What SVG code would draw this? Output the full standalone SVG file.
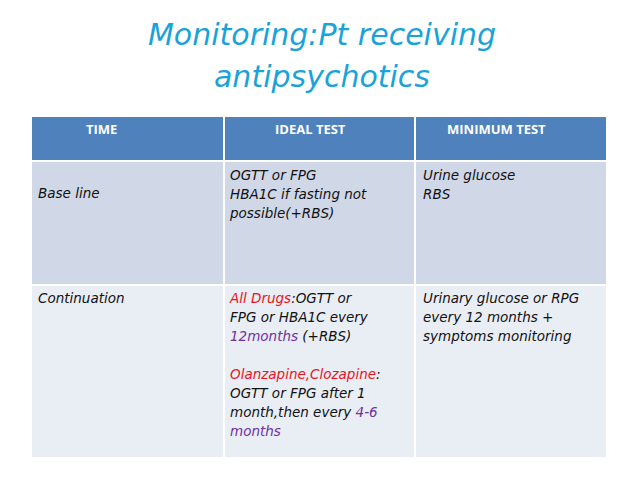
<svg xmlns="http://www.w3.org/2000/svg" width="638" height="478" viewBox="0 0 638 478">
<style>
.t{font-family:"DejaVu Sans",sans-serif;font-style:italic;font-size:30px;fill:#1aa3d9;text-anchor:middle}
.h{font-family:"Open Sans","Liberation Sans",sans-serif;font-weight:bold;font-size:13px;fill:#fff}
.c{font-family:"DejaVu Sans",sans-serif;font-style:italic;font-size:13.5px;fill:#111}
.r{fill:#e8141a}.p{fill:#7030a0}
</style>
<rect width="638" height="478" fill="#fff"/>
<g id="title"><text class="t" x="322" y="45">Monitoring:Pt receiving</text><text class="t" x="322" y="87">antipsychotics</text></g>
<g id="table">
<rect x="32" y="117" width="574" height="44" fill="#4f81bd"/>
<rect x="32" y="161" width="574" height="124" fill="#d0d8e8"/>
<rect x="32" y="285" width="574" height="172" fill="#e9edf4"/>
<g stroke="#fff" stroke-width="2"><line x1="32" y1="161" x2="606" y2="161"/><line x1="32" y1="285" x2="606" y2="285"/><line x1="224" y1="117" x2="224" y2="457"/><line x1="415" y1="117" x2="415" y2="457"/></g>
<text class="h" x="86" y="134">TIME</text><text class="h" x="275" y="134">IDEAL TEST</text><text class="h" x="447" y="134">MINIMUM   TEST</text>
<text class="c" x="38" y="198">Base line</text>
<text class="c" x="230" y="180">OGTT or FPG</text><text class="c" x="230" y="199">HBA1C if fasting not</text><text class="c" x="230" y="218">possible(+RBS)</text>
<text class="c" x="423" y="180">Urine glucose</text><text class="c" x="423" y="199">RBS</text>
<text class="c" x="38" y="303">Continuation</text>
<text class="c" x="230" y="303"><tspan class="r">All Drugs</tspan>:OGTT  or</text>
<text class="c" x="230" y="322">FPG or HBA1C every</text>
<text class="c" x="230" y="341"><tspan class="p">12months</tspan> (+RBS)</text>
<text class="c" x="230" y="379"><tspan class="r">Olanzapine,Clozapine</tspan>:</text>
<text class="c" x="230" y="398">OGTT or FPG after 1</text>
<text class="c" x="230" y="417">month,then every <tspan class="p">4-6</tspan></text>
<text class="c" x="230" y="436" fill="#7030a0" style="fill:#7030a0">months</text>
<text class="c" x="423" y="303">Urinary glucose or RPG</text><text class="c" x="423" y="322">every 12 months +</text><text class="c" x="423" y="341">symptoms monitoring</text>
</g>
</svg>
